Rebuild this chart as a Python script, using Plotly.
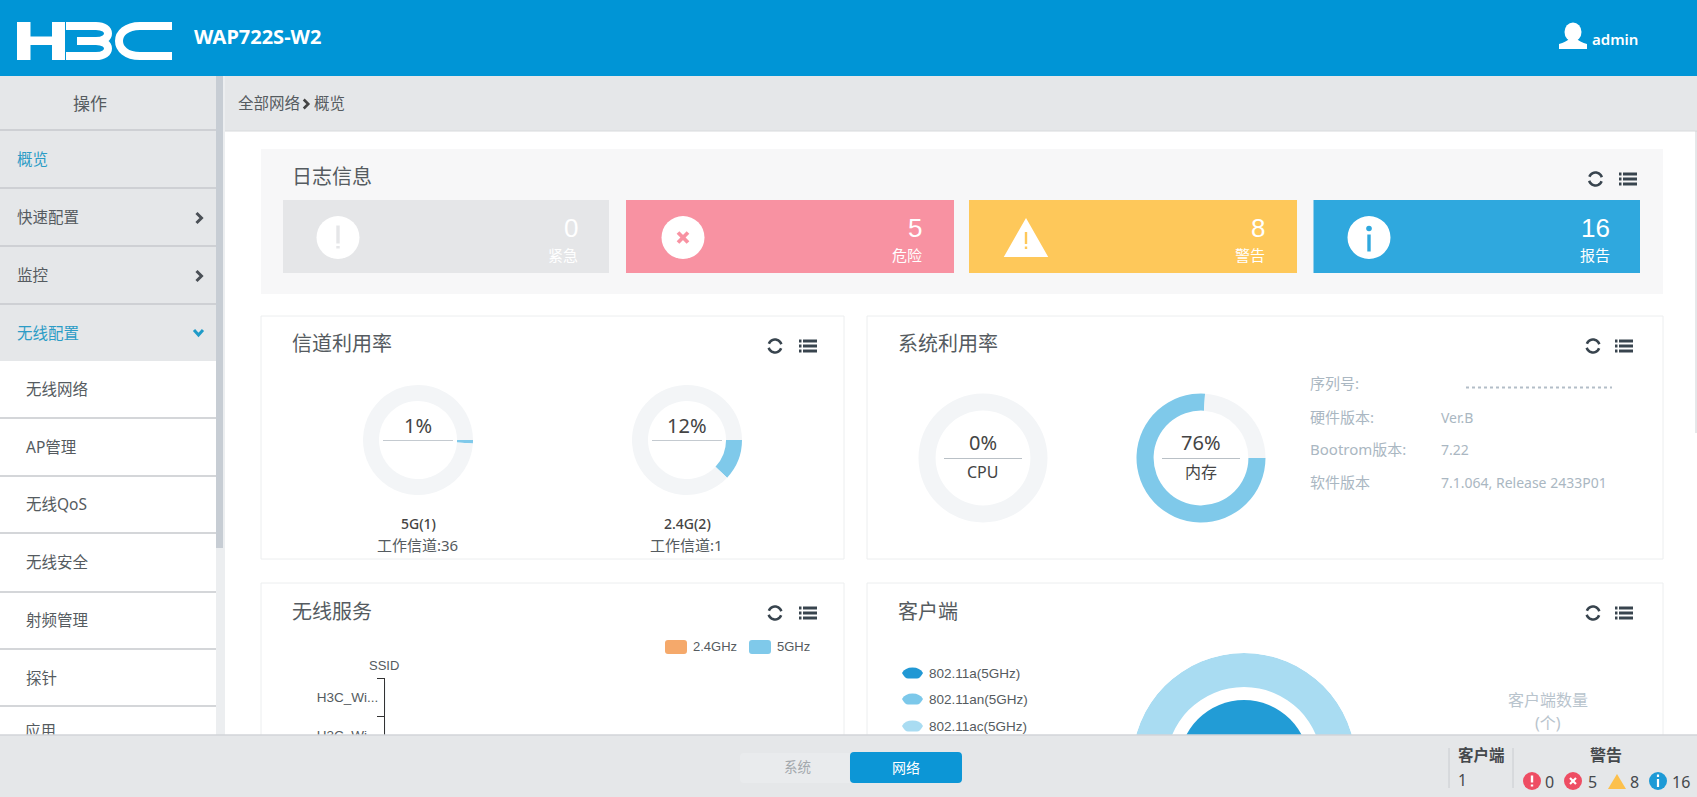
import numpy as np
import plotly.graph_objects as go

# ==========================================
# 1. DATA
# ==========================================
W, H = 1697, 797

device_name = "WAP722S-W2"
user_name = "admin"

nav_top = ["概览", "快速配置", "监控", "无线配置"]
nav_sub = ["无线网络", "AP管理", "无线QoS", "无线安全", "射频管理", "探针"]

log_counts = [0, 5, 8, 16]
log_labels = ["紧急", "危险", "警告", "报告"]

channel_names = ["5G(1)", "2.4G(2)"]
channel_work = ["工作信道:36", "工作信道:1"]
channel_used = [1, 12]

system_names = ["CPU", "内存"]
system_used = [0, 76]

info_labels = ["序列号:", "硬件版本:", "Bootrom版本:", "软件版本"]
info_values = ["", "Ver.B", "7.22", "7.1.064, Release 2433P01"]

ssid_ids = ["ssid_1", "ssid_2"]
ssid_labels = ["H3C_Wi...", "H3C_Wi..."]
ssid_24g = [0, 0]
ssid_5g = [0, 0]
band_labels = ["2.4GHz", "5GHz"]

client_modes = ["802.11a(5GHz)", "802.11an(5GHz)", "802.11ac(5GHz)"]
client_ring_base = [0, 78]
client_ring_width = [65, 34]

footer_clients = 1

BLUE = "#0095d6"
GREY = "#e5e7e9"
TXT = "#555b60"
USED = "#7fc9ea"
FREE = "#f3f5f7"
CJK = "Noto Sans, Noto Sans CJK SC"
ARIAL = "Liberation Sans, Noto Sans CJK SC"

# ==========================================
# 2. HELPERS, EVERYTHING IN SCREEN PIXELS
# ==========================================
shapes = []
annotations = []


def fx(x):
    return x / W


def fy(y):
    return 1 - y / H


def rect(x0, y0, x1, y1, fill, line=None, lw=1):
    shapes.append(dict(type="rect", xref="paper", yref="paper",
                       x0=fx(x0), x1=fx(x1), y0=fy(y0), y1=fy(y1),
                       fillcolor=fill, layer="below",
                       line=dict(color=line or fill, width=lw if line else 0)))


def seg(x0, y0, x1, y1, color, lw=1, layer="below", dash="solid"):
    shapes.append(dict(type="line", xref="paper", yref="paper",
                       x0=fx(x0), x1=fx(x1), y0=fy(y0), y1=fy(y1), layer=layer,
                       line=dict(color=color, width=lw, dash=dash)))


def circle(cx, cy, rx, fill, ry=None, layer="below"):
    ry = ry or rx
    shapes.append(dict(type="circle", xref="paper", yref="paper",
                       x0=fx(cx - rx), x1=fx(cx + rx), y0=fy(cy - ry), y1=fy(cy + ry),
                       fillcolor=fill, line=dict(width=0), layer=layer))


def path(cmds, fill=None, stroke=None, lw=0, layer="below"):
    # cmds: list like ["M", x, y, "L", x, y, "C", x, y, x, y, x, y, "Z"]
    out, is_x = [], True
    for c in cmds:
        if isinstance(c, str):
            out.append(c)
            is_x = True
        else:
            out.append(f"{fx(c) if is_x else fy(c):.5f}")
            is_x = not is_x
    shapes.append(dict(type="path", xref="paper", yref="paper", path=" ".join(out),
                       fillcolor=fill or "rgba(0,0,0,0)", layer=layer,
                       line=dict(color=stroke or "rgba(0,0,0,0)", width=lw)))


def rrect(x0, y0, x1, y1, r, fill, layer="below"):
    path(["M", x0 + r, y0, "L", x1 - r, y0, "Q", x1, y0, x1, y0 + r,
          "L", x1, y1 - r, "Q", x1, y1, x1 - r, y1,
          "L", x0 + r, y1, "Q", x0, y1, x0, y1 - r,
          "L", x0, y0 + r, "Q", x0, y0, x0 + r, y0, "Z"], fill=fill, layer=layer)


def text(x, y, s, size=15, color=TXT, anchor="left", family=CJK, weight=None):
    annotations.append(dict(x=fx(x), y=fy(y), xref="paper", yref="paper", text=s,
                            showarrow=False, xanchor=anchor, yanchor="middle", borderpad=0,
                            align=anchor,
                            font=dict(size=size, color=color, family=family, weight=weight)))


def chevron_right(x, y, color="#444", lw=3, s=5):
    path(["M", x - s / 2, y - s, "L", x + s / 2, y, "L", x - s / 2, y + s], stroke=color, lw=lw)


def panel_tools(rx, lx, y):
    # refresh icon: two arcs with a gap
    for a0, a1 in [(20, 165), (200, 345)]:
        ang = np.radians(np.linspace(a0, a1, 14))
        cmds = []
        for i, a in enumerate(ang):
            cmds += ["M" if i == 0 else "L", rx + 6.5 * np.cos(a), y + 6.5 * np.sin(a)]
        path(cmds, stroke="#38444e", lw=2.6)
    # list icon: three rows
    for dy in (-5, 0, 5):
        rect(lx - 9, y + dy - 1.5, lx - 6.5, y + dy + 1.5, "#38444e")
        rect(lx - 5, y + dy - 1.5, lx + 9, y + dy + 1.5, "#38444e")


def bang(cx, cy, color, top=12, bottom=6, dot=8.5, lw=3.4):
    seg(cx, cy - top, cx, cy + bottom, color, lw)
    seg(cx, cy + dot, cx, cy + dot + 2.5, color, lw)


def cross(cx, cy, color, s=5, lw=3.8):
    seg(cx - s, cy - s, cx + s, cy + s, color, lw)
    seg(cx - s, cy + s, cx + s, cy - s, color, lw)


def info_mark(cx, cy, color, r=21):
    scale = r / 21
    circle(cx, cy - 9 * scale, 2.8 * scale, color)
    seg(cx, cy - 3 * scale, cx, cy + 14 * scale, color, 3.4 * scale)


fig = go.Figure()


def donut(cx, cy, r, hole, used):
    fig.add_trace(go.Pie(
        values=[used, 100 - used], sort=False, direction="clockwise", rotation=90,
        hole=hole, textinfo="none", hoverinfo="skip", showlegend=False,
        marker=dict(colors=[USED, FREE], line=dict(width=0)),
        domain=dict(x=[fx(cx - r), fx(cx + r)], y=[fy(cy + r), fy(cy - r)])
    ))


# ==========================================
# 3. PAGE FRAME
# ==========================================
rect(0, 0, W, 76, BLUE)
seg(0, 76.5, W, 76.5, "#9fd3ee", 1)

# logo, drawn as the vector mark it is
for x0, x1 in [(17, 30.5), (52, 65)]:
    rect(x0, 22, x1, 60, "white")
rect(17, 36.5, 65, 45, "white")
path(["M", 66, 26, "L", 96, 26, "C", 112, 26, 112, 41, 96, 41, "L", 77, 41], stroke="white", lw=8)
path(["M", 96, 41, "C", 112, 41, 112, 56, 96, 56, "L", 66, 56], stroke="white", lw=8)
path(["M", 172, 26, "L", 140, 26, "C", 112, 26, 112, 56, 140, 56, "L", 172, 56], stroke="white", lw=8)

text(193, 37, device_name, 20, "white", weight=700)
circle(1573, 32, 8.5, "white", ry=9.5)
path(["M", 1559, 49, "L", 1559, 44, "Q", 1566, 42, 1569, 39, "L", 1577, 39, "Q", 1580, 42, 1587, 44,
      "L", 1587, 49, "Z"], fill="white")
text(1591, 39, user_name, 15, "white", weight=600)

# sidebar
rect(0, 76, 216, 361, GREY)
rect(0, 361, 216, 735, "white")
rect(216, 76, 225, 735, "#eceef0")
rect(216, 76, 223, 548, "#c7cdd4")
for y in (130, 188, 246, 304):
    seg(0, y, 216, y, "#c6c9cc", 1.5)
for y in (418, 476, 533, 592, 649, 706):
    seg(0, y, 216, y, "#c6c9cc", 1.5)

text(90, 104, "操作", 17, "#555b60", "center")
nav_top_y = [159, 217, 275, 333]
nav_colors = ["#2c9cc6", "#555b60", "#555b60", "#2c9cc6"]
for s, y, c in zip(nav_top, nav_top_y, nav_colors):
    text(16, y, s, 15.5, c)
chevron_right(199, 218, "#4a5056")
chevron_right(199, 276, "#4a5056")
path(["M", 194, 330, "L", 198.5, 335, "L", 203, 330], stroke="#1f9bc8", lw=3)
nav_sub_y = [389, 447, 504, 562, 620, 678]
for s, y in zip(nav_sub, nav_sub_y):
    text(25, y, s, 15.5, "#555b60")

# breadcrumb
rect(225, 76, W, 131, GREY)
seg(225, 131, W, 131, "#d8dadc", 1)
text(237, 103, "全部网络", 15.5, "#555b60")
chevron_right(306, 104, "#444", 2.6, 4.5)
text(313, 103, "概览", 15.5, "#555b60")
seg(1696, 131, 1696, 433, "#ccd0d4", 1)

# ==========================================
# 4. LOG PANEL
# ==========================================
rect(261, 149, 1663, 294, "#f7f7f8")
text(291, 177, "日志信息", 20)
panel_tools(1595.5, 1628, 179)

tile_x = [(283, 609), (626, 954), (969, 1297), (1313.5, 1640)]
tile_colors = ["#e5e6e8", "#f892a2", "#fec85a", "#2fa8de"]
tile_right = [579, 923, 1266, 1611]
for (x0, x1), c, r, n, s in zip(tile_x, tile_colors, tile_right, log_counts, log_labels):
    rect(x0, 200, x1, 273, c)
    text(r, 228.5, str(n), 26, "white", "right", family=ARIAL)
    text(r, 254.5, s, 15, "white", "right", family="Noto Sans CJK SC")

circle(338, 237.5, 21.5, "white")
bang(338, 237.5, tile_colors[0])
circle(683, 237.5, 21.5, "white")
cross(683, 237.5, tile_colors[1])
path(["M", 1026, 220, "L", 1046.5, 256, "L", 1005.5, 256, "Z"], fill="white", stroke="white", lw=2)
bang(1026, 241, "#fec85a", 9, 3, 5.5, 2.4)
circle(1369, 237.5, 21.5, "white")
info_mark(1369, 237.5, tile_colors[3])

# ==========================================
# 5. CHANNEL AND SYSTEM PANELS
# ==========================================
rect(261, 316, 844, 559, "white", "#eceeef")
rect(867, 316, 1663, 559, "white", "#eceeef")

text(291, 344, "信道利用率", 20)
text(897, 344, "系统利用率", 20)
panel_tools(775, 808, 346)
panel_tools(1593, 1624, 346)

channel_cx = [418, 687]
for cx, used, name, work in zip(channel_cx, channel_used, channel_names, channel_work):
    donut(cx, 440, 55, 0.71, used)
    text(cx, 425, f"{used}%", 20, "#444", "center")
    seg(cx - 35, 440.5, cx + 35, 440.5, "#c4cad0", 1)
    text(cx, 523, name, 14, "#444", "center", weight=500)
    text(cx - 1, 545, work, 15, "#555b60", "center")

system_cx = [983, 1201]
for cx, used, name in zip(system_cx, system_used, system_names):
    donut(cx, 458, 64.5, 0.735, used)
    text(cx, 442, f"{used}%", 20, "#444", "center")
    seg(cx - 39, 458.5, cx + 39, 458.5, "#b9c0c6", 1)
    text(cx, 472, name, 16, "#444", "center")

info_y = [383, 417, 449, 482]
for lab, val, y in zip(info_labels, info_values, info_y):
    text(1309, y, lab, 15, "#aab7c2")
    if val:
        text(1440, y, val, 14, "#aab7c2")
seg(1466, 387.5, 1612, 387.5, "#b3bec8", 2, dash="dot")

# ==========================================
# 6. WIRELESS SERVICE AND CLIENT PANELS
# ==========================================
rect(261, 583, 844, 740, "white", "#eceeef")
rect(867, 583, 1663, 740, "white", "#eceeef")

text(291, 611, "无线服务", 20)
text(897, 611, "客户端", 20)
panel_tools(775, 808, 613)
panel_tools(1593, 1624, 613)

# band legend
band_colors = ["#f5a96b", "#7fc9ea"]
band_swatch_x = [665, 749]
band_text_x = [692, 776]
for c, sx, tx, s in zip(band_colors, band_swatch_x, band_text_x, band_labels):
    rrect(sx, 640, sx + 22, 654, 3, c)
    text(tx, 646, s, 13, "#555b60", family=ARIAL)
text(384, 665, "SSID", 13, "#555b60", "center", family=ARIAL)

# client legend
mode_colors = ["#2198d4", "#7cc8ea", "#a9dcf2"]
mode_y = [673, 699, 726]
for s, y, c in zip(client_modes, mode_y, mode_colors):
    path(["M", 902, y, "Q", 905, y - 5.5, 912.5, y - 5.5, "Q", 920, y - 5.5, 923, y,
          "Q", 920, y + 5.5, 917, y + 5.5, "L", 908, y + 5.5, "Q", 905, y + 5.5, 902, y, "Z"], fill=c)
    text(928, y, s, 13.5, "#555b60", family=ARIAL)

text(1548, 700, "客户端数量", 16, "#b9c4cd", "center")
text(1548, 723, "(个)", 16, "#b9c4cd", "center")

# ring behind the footer: only its top shows
ring_colors = ["#229cd6", "#a9dcf2"]
for base, width, c, name in zip(client_ring_base, client_ring_width, ring_colors,
                                [client_modes[0], client_modes[2]]):
    fig.add_trace(go.Barpolar(r=[width], base=[base], theta=[90], width=[180], name=name,
                              marker=dict(color=c, line=dict(width=0)),
                              showlegend=False, hoverinfo="skip"))

# SSID bar chart, only the top of the axis shows above the footer
fig.add_trace(go.Bar(y=ssid_ids, x=ssid_24g, orientation="h", xaxis="x2", yaxis="y2",
                     marker_color=band_colors[0], showlegend=False, hoverinfo="skip"))
fig.add_trace(go.Bar(y=ssid_ids, x=ssid_5g, orientation="h", xaxis="x2", yaxis="y2",
                     marker_color=band_colors[1], showlegend=False, hoverinfo="skip"))

# last nav entry is cut by the footer, so it lives under the shapes
fig.add_trace(go.Scatter(x=[25], y=[733], text=["应用"], mode="text", textposition="middle right",
                         textfont=dict(size=15.5, color="#555b60", family=CJK),
                         cliponaxis=False, showlegend=False, hoverinfo="skip"))

# ==========================================
# 7. FOOTER
# ==========================================
def foot_rect(x0, y0, x1, y1, fill):
    rect(x0, y0, x1, y1, fill)
    shapes[-1]["layer"] = "above"


foot_rect(0, 735, W, H, GREY)
seg(0, 735, W, 735, "#d2d5d8", 1.5, "above")
rrect(740, 753, 855, 783, 4, "#e9ebed", "above")
rrect(850, 752, 962, 783, 4, "#0c96d6", "above")
text(797, 767, "系统", 13.5, "#a3a8ac", "center")
text(906, 767, "网络", 14, "white", "center")

seg(1449, 748, 1449, 788, "#c9ccd0", 1, "above")
seg(1513, 748, 1513, 788, "#c9ccd0", 1, "above")
text(1481, 755, "客户端", 15.5, "#45494d", "center", weight=700)
text(1457, 780, str(footer_clients), 15.5, "#45494d")
text(1606, 755, "警告", 16, "#45494d", "center", weight=700)

circle(1532, 781, 9, "#ee4d63", layer="above")
seg(1532, 775.5, 1532, 782.5, "white", 2.4, "above")
seg(1532, 784.5, 1532, 786.5, "white", 2.4, "above")
circle(1573, 781, 9, "#ee4d63", layer="above")
seg(1570, 778, 1576, 784, "white", 2.2, "above")
seg(1570, 784, 1576, 778, "white", 2.2, "above")
path(["M", 1617, 774, "L", 1626, 789, "L", 1608, 789, "Z"], fill="#fcc04c", layer="above")
circle(1658, 781, 9, "#1d9ad6", layer="above")
seg(1658, 779, 1658, 787, "white", 2.2, "above")
seg(1658, 774.5, 1658, 777, "white", 2.2, "above")

foot_x = [1549, 1592, 1634, 1681]
for x, n in zip(foot_x, log_counts):
    text(x, 782, str(n), 16, "#45494d", "center")

# ==========================================
# 8. LAYOUT
# ==========================================
fig.update_layout(
    width=W, height=H, autosize=False,
    margin=dict(l=0, r=0, t=0, b=0, pad=0),
    paper_bgcolor="white", plot_bgcolor="rgba(0,0,0,0)",
    showlegend=False, barmode="group",
    shapes=shapes, annotations=annotations,
    xaxis=dict(range=[0, W], domain=[0, 1], visible=False, fixedrange=True),
    yaxis=dict(range=[H, 0], domain=[0, 1], visible=False, fixedrange=True),
    xaxis2=dict(range=[0, 1], domain=[fx(385), fx(820)], anchor="y2", visible=False, fixedrange=True),
    yaxis2=dict(domain=[fy(754), fy(678)], anchor="x2", type="category", autorange="reversed",
                tickmode="array", tickvals=ssid_ids, ticktext=ssid_labels,
                tickson="boundaries", ticks="outside", ticklen=7, tickcolor="#333",
                ticklabelstandoff=3,
                linecolor="#333", linewidth=1, showline=True, showgrid=False, zeroline=False,
                tickfont=dict(size=13.5, color="#555b60", family=ARIAL), fixedrange=True),
    polar=dict(
        domain=dict(x=[fx(1244 - 112), fx(1244 + 112)], y=[fy(765), fy(653)]),
        sector=[0, 180], barmode="overlay", bgcolor="rgba(0,0,0,0)",
        radialaxis=dict(range=[0, 112], visible=False),
        angularaxis=dict(visible=False),
    ),
)

fig.write_html("out.html", config=dict(displayModeBar=False),
               post_script="document.body.style.margin='0';document.body.style.overflow='hidden';")
